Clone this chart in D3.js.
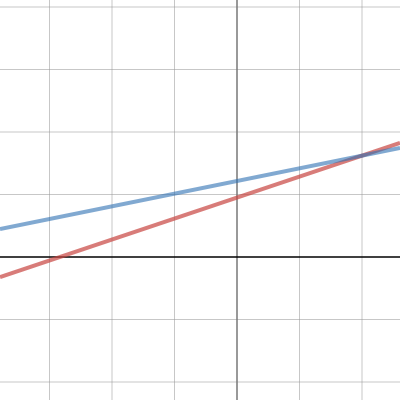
<!DOCTYPE html>
<html><head><meta charset="utf-8">
<script src="https://cdn.jsdelivr.net/npm/d3@7"></script>
<style>body{margin:0;background:#fff}</style></head>
<body><svg id="c" width="400" height="400"></svg>
<script>
const xDomain = [-3.792, 2.608];
const yDomain = [-2.288, 4.112];
const gridX = [-3, -2, -1, 1, 2];
const gridY = [-2, -1, 1, 2, 3, 4];
const blueLine = [[-3.792, 0.448], [2.608, 1.744]];
const redLine = [[-3.792, -0.32], [2.608, 1.824]];

const svg = d3.select("#c");
const x = d3.scaleLinear().domain(xDomain).range([0, 400]);
const y = d3.scaleLinear().domain(yDomain).range([400, 0]);

svg.selectAll(".gx").data(gridX).enter().append("line")
  .attr("x1", d => x(d)).attr("x2", d => x(d)).attr("y1", 0).attr("y2", 400)
  .attr("stroke", "#999").attr("stroke-opacity", 0.55).attr("stroke-width", 1);
svg.selectAll(".gy").data(gridY).enter().append("line")
  .attr("y1", d => y(d)).attr("y2", d => y(d)).attr("x1", 0).attr("x2", 400)
  .attr("stroke", "#999").attr("stroke-opacity", 0.55).attr("stroke-width", 1);
svg.append("line").attr("x1", x(0)).attr("x2", x(0)).attr("y1", 0).attr("y2", 400)
  .attr("stroke", "#777").attr("stroke-width", 1.5);
svg.append("line").attr("y1", y(0)).attr("y2", y(0)).attr("x1", 0).attr("x2", 400)
  .attr("stroke", "#000").attr("stroke-width", 1.5);

const line = d3.line().x(d => x(d[0])).y(d => y(d[1]));
svg.append("path").attr("d", line(redLine)).attr("fill", "none")
  .attr("stroke", "#c74440").attr("stroke-opacity", 0.7).attr("stroke-width", 4);
svg.append("path").attr("d", line(blueLine)).attr("fill", "none")
  .attr("stroke", "#2d70b3").attr("stroke-opacity", 0.6).attr("stroke-width", 4);
</script></body></html>
